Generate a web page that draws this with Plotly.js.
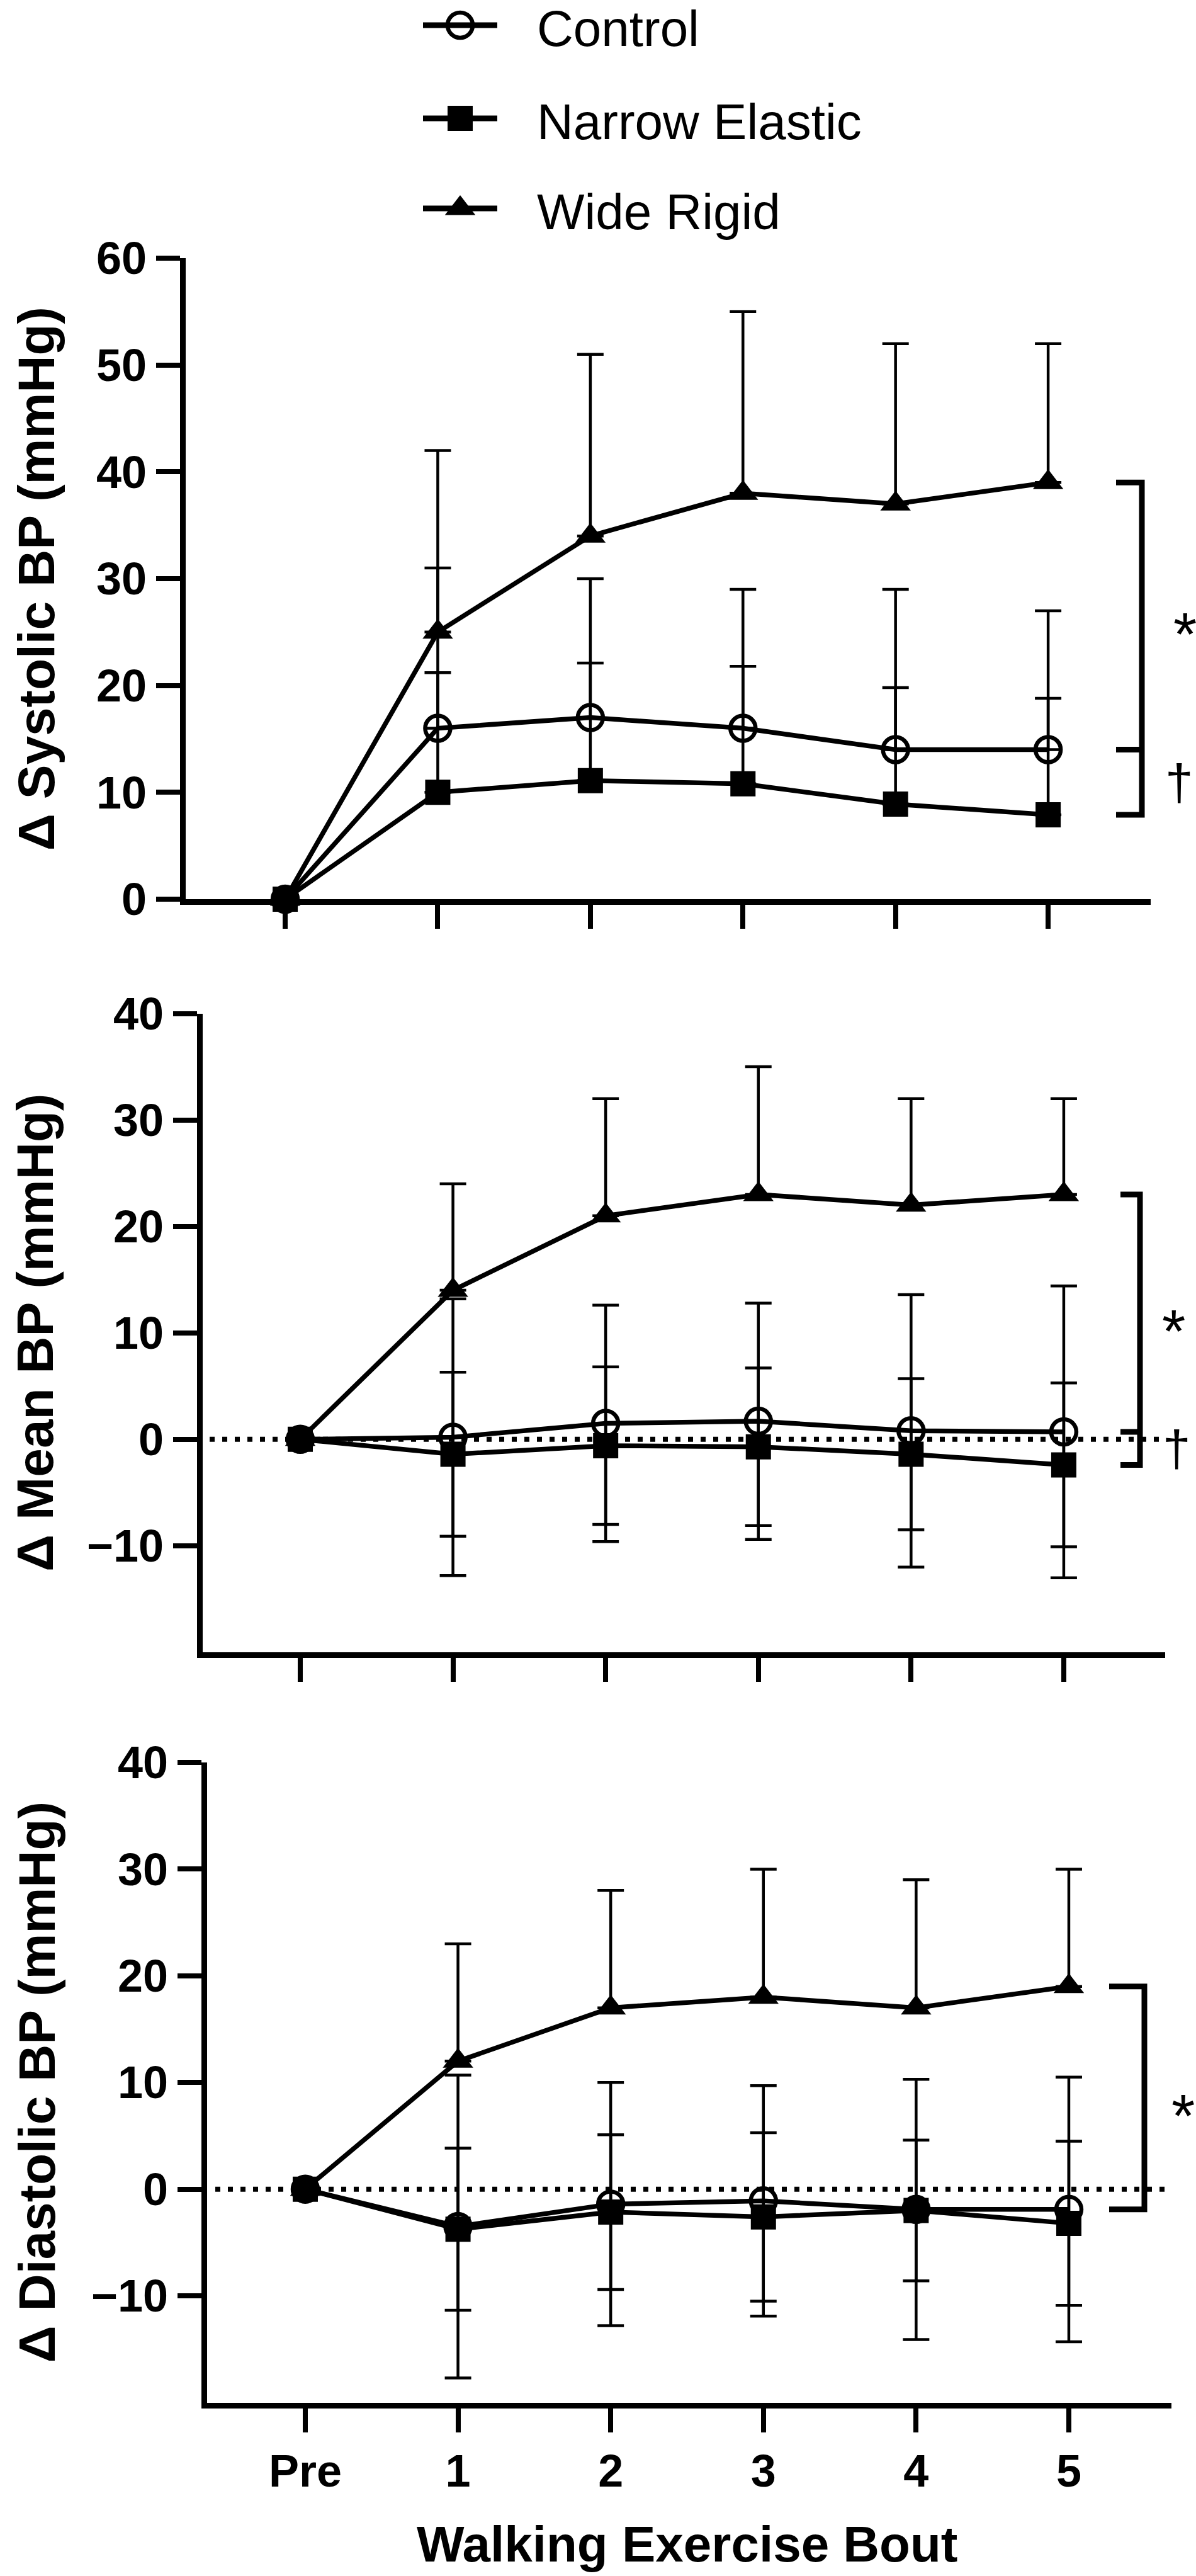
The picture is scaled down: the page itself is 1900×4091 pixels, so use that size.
<!DOCTYPE html>
<html><head><meta charset="utf-8">
<script src="https://cdn.plot.ly/plotly-3.0.1.min.js"></script>
<style>html,body{margin:0;padding:0;background:#fff}#chart{width:1900px;height:4091px}</style>
</head><body><div id="chart"></div>
<script>
// ---------------- data ----------------
const categories = ['Pre', '1', '2', '3', '4', '5'];
const seriesNames = ['Control', 'Narrow Elastic', 'Wide Rigid'];

const systolicControl   = [0, 16, 17, 16, 14, 14];
const systolicControlSD = [null, 15, 13, 13, 15, 13];
const systolicNarrow    = [0, 10, 11.1, 10.8, 8.9, 7.9];
const systolicNarrowSD  = [null, 11.2, 11.0, 11.0, 10.9, 10.9];
const systolicWide      = [0, 25, 34, 38, 37, 39];
const systolicWideSD    = [null, 17, 17, 17, 15, 13];

const meanControl   = [0, 0.2, 1.5, 1.7, 0.8, 0.7];
const meanControlSD = [null, 13.0, 11.1, 11.1, 12.8, 13.7];
const meanNarrow    = [0, -1.4, -0.6, -0.7, -1.4, -2.4];
const meanNarrowSD  = [null, 7.7, 7.4, 7.4, 7.1, 7.7];
const meanWide      = [0, 14, 21, 23, 22, 23];
const meanWideSD    = [null, 10, 11, 12, 10, 9];

const diastolicControl   = [0, -3.5, -1.4, -1.1, -1.9, -1.9];
const diastolicControlSD = [null, 14.2, 11.4, 10.8, 12.2, 12.4];
const diastolicNarrow    = [0, -3.75, -2.15, -2.6, -2.0, -3.2];
const diastolicNarrowSD  = [null, 7.6, 7.25, 7.9, 6.6, 7.7];
const diastolicWide      = [0, 12, 17, 18, 17, 19];
const diastolicWideSD    = [null, 11, 11, 12, 12, 11];

const systolicTicks = [0, 10, 20, 30, 40, 50, 60];
const changeTicks   = [-10, 0, 10, 20, 30, 40];
const yTitles = ['\u0394 Systolic BP (mmHg)', '\u0394 Mean BP (mmHg)', '\u0394 Diastolic BP (mmHg)'];
const xTitle = 'Walking Exercise Bout';
const starMark = '*';
const daggerMark = '\u2020';

// ---------------- style ----------------
const W = 1900, H = 4091;
const px2x = p => p / W;
const px2y = p => 1 - p / H;
const FONT = 'Liberation Sans, Arial, Helvetica, sans-serif';
const BLACK = '#000';

const symbolStyles = [
  {symbol: 'circle-open', size: 40, color: BLACK, line: {width: 6.5, color: BLACK}},
  {symbol: 'square', size: 40, color: BLACK, line: {width: 0}},
  {symbol: 'triangle-up', size: 42, color: BLACK, line: {width: 0}}
];

const panels = [
  {
    series: [[systolicControl, systolicControlSD], [systolicNarrow, systolicNarrowSD], [systolicWide, systolicWideSD]],
    oneSided: [true, true, true],
    yRange: [0, 60], ticks: systolicTicks,
    xPx: [294.5, 1828], yPx: [410, 1428], xRange: [-0.654, 5.672],
    titleX: 58, zeroLine: null,
    bracket: {x0: 1773, x1: 1814, levels: [2, 0, 1]},
    marks: [{text: starMark, x: 1882, between: [2, 0]}, {text: daggerMark, x: 1873, between: [0, 1]}]
  },
  {
    series: [[meanControl, meanControlSD], [meanNarrow, meanNarrowSD], [meanWide, meanWideSD]],
    oneSided: [false, false, true],
    yRange: [-20, 40], ticks: changeTicks,
    xPx: [321.5, 1851], yPx: [1609.5, 2624], xRange: [-0.641, 5.664],
    titleX: 56, zeroLine: [333, 1849],
    bracket: {x0: 1780, x1: 1811, levels: [2, 0, 1]},
    marks: [{text: starMark, x: 1864, between: [2, 0]}, {text: daggerMark, x: 1869, between: [0, 1]}]
  },
  {
    series: [[diastolicControl, diastolicControlSD], [diastolicNarrow, diastolicNarrowSD], [diastolicWide, diastolicWideSD]],
    oneSided: [false, false, true],
    yRange: [-20, 40], ticks: changeTicks,
    xPx: [328.5, 1861], yPx: [2799, 3815.5], xRange: [-0.645, 5.672],
    titleX: 58, zeroLine: [342, 1852],
    bracket: {x0: 1762, x1: 1818, levels: [2, 0]},
    marks: [{text: starMark, x: 1879, between: [2, 0]}]
  }
];

const LEGEND = {rows: [40, 188, 331], lineX: [672, 790], markerX: 731, textX: 851, fontSize: 80, lineWidth: 9};

// ---------------- build ----------------
const traces = [];
const shapes = [];
const annotations = [];
const layout = {
  width: W, height: H, autosize: false,
  margin: {l: 0, r: 0, t: 0, b: 0, pad: 0},
  paper_bgcolor: '#fff', plot_bgcolor: 'rgba(0,0,0,0)',
  showlegend: false,
  font: {family: FONT, color: BLACK}
};

const tickFont = {family: FONT, size: 72, color: BLACK, weight: 'bold'};
const toNaN = v => (v == null ? NaN : v);

panels.forEach((p, i) => {
  const suf = i === 0 ? '' : String(i + 1);
  const xa = 'x' + suf, ya = 'y' + suf;
  layout['xaxis' + suf] = {
    domain: [px2x(p.xPx[0]), px2x(p.xPx[1])], range: p.xRange, type: 'category',
    anchor: ya, showline: true, linewidth: 9, linecolor: BLACK,
    ticks: 'outside', ticklen: 38, tickwidth: 8, tickcolor: BLACK,
    showgrid: false, zeroline: false, showticklabels: i === 2,
    tickfont: tickFont, fixedrange: true
  };
  layout['yaxis' + suf] = {
    domain: [px2y(p.yPx[1]), px2y(p.yPx[0])], range: p.yRange,
    tickmode: 'array', tickvals: p.ticks, anchor: xa,
    showline: true, linewidth: 9, linecolor: BLACK,
    ticks: 'outside', ticklen: 38, tickwidth: 8, tickcolor: BLACK,
    showgrid: false, zeroline: false, tickfont: tickFont, fixedrange: true
  };

  p.series.forEach((s, k) => {
    const [vals, sd] = s;
    const plus = sd.map(toNaN);
    const minus = p.oneSided[k] ? sd.map(v => (v == null ? NaN : 0)) : sd.map(toNaN);
    traces.push({
      type: 'scatter', mode: 'lines+markers', name: seriesNames[k],
      x: categories, y: vals, xaxis: xa, yaxis: ya, cliponaxis: false,
      line: {color: BLACK, width: 7.5},
      marker: symbolStyles[k],
      error_y: {type: 'data', symmetric: false, array: plus, arrayminus: minus,
                color: BLACK, thickness: 4.5, width: 21, visible: true}
    });
  });

  if (p.zeroLine) {
    shapes.push({type: 'line', xref: 'paper', yref: ya, layer: 'below',
      x0: px2x(p.zeroLine[0]), x1: px2x(p.zeroLine[1]), y0: 0, y1: 0,
      line: {color: BLACK, width: 8, dash: '8px,12px'}});
  }

  // significance bracket joined to the last values of the series
  const last = k => p.series[k][0][p.series[k][0].length - 1];
  const bx0 = px2x(p.bracket.x0), bx1 = px2x(p.bracket.x1);
  const lv = p.bracket.levels.map(last);
  const top = Math.max(...lv), bot = Math.min(...lv);
  let path = `M${bx0},${top} H${bx1} V${bot} H${bx0}`;
  lv.forEach(v => { if (v !== top && v !== bot) path += ` M${bx0},${v} H${bx1}`; });
  shapes.push({type: 'path', xref: 'paper', yref: ya, path: path,
    line: {color: BLACK, width: 9}});

  p.marks.forEach(m => {
    const yv = (last(m.between[0]) + last(m.between[1])) / 2;
    const isStar = m.text === starMark;
    annotations.push({text: m.text, xref: 'paper', yref: ya, x: px2x(m.x), y: yv,
      xanchor: 'center', yanchor: 'middle', showarrow: false,
      yshift: isStar ? -28 : 0,
      font: {family: FONT, size: isStar ? 96 : 80, color: BLACK}});
  });

  annotations.push({text: yTitles[i], textangle: -90, xref: 'paper', yref: 'paper',
    x: px2x(p.titleX), y: (px2y(p.yPx[0]) + px2y(p.yPx[1])) / 2,
    xanchor: 'center', yanchor: 'middle', showarrow: false,
    font: {family: FONT, size: 82, color: BLACK, weight: 'bold'}});
});

annotations.push({text: xTitle, xref: 'paper', yref: 'paper', x: px2x(1092), y: px2y(4040),
  xanchor: 'center', yanchor: 'middle', showarrow: false,
  font: {family: FONT, size: 80, color: BLACK, weight: 'bold'}});

// ---------------- custom legend (overlay axes in pixel units) ----------------
layout.xaxis4 = {domain: [0, 1], range: [0, W], visible: false, anchor: 'y4', fixedrange: true};
layout.yaxis4 = {domain: [0, 1], range: [H, 0], visible: false, anchor: 'x4', fixedrange: true};
seriesNames.forEach((name, k) => {
  const r = LEGEND.rows[k];
  traces.push({type: 'scatter', mode: 'lines', x: LEGEND.lineX, y: [r, r],
    xaxis: 'x4', yaxis: 'y4', line: {color: BLACK, width: LEGEND.lineWidth}, hoverinfo: 'skip'});
  traces.push({type: 'scatter', mode: 'markers', x: [LEGEND.markerX], y: [r],
    xaxis: 'x4', yaxis: 'y4', marker: symbolStyles[k], hoverinfo: 'skip'});
  annotations.push({text: name, xref: 'paper', yref: 'paper', x: px2x(LEGEND.textX), y: px2y(r + 5),
    xanchor: 'left', yanchor: 'middle', showarrow: false,
    font: {family: FONT, size: LEGEND.fontSize, color: BLACK}});
});

layout.shapes = shapes;
layout.annotations = annotations;

Plotly.newPlot('chart', traces, layout, {staticPlot: true, displayModeBar: false});
</script>
</body></html>
